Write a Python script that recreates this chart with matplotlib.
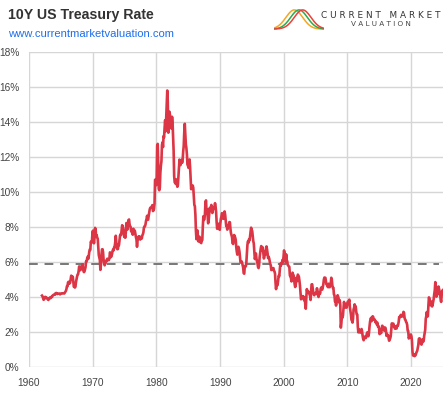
import numpy as np
import matplotlib
matplotlib.use("Agg")
import matplotlib.pyplot as plt

# ── Monthly 10Y treasury yield (%), Jan 1962 .. Dec 2024 ─────────
rates_1960s = [
    4.08, 4.04, 3.93, 3.84, 3.87, 3.91, 4.01, 3.98, 3.98, 3.93, 3.92, 3.86,  # 1962
    3.83, 3.92, 3.93, 3.97, 3.93, 3.99, 4.02, 4.00, 4.08, 4.11, 4.12, 4.13,  # 1963
    4.17, 4.15, 4.22, 4.23, 4.20, 4.17, 4.19, 4.19, 4.20, 4.19, 4.15, 4.18,  # 1964
    4.19, 4.21, 4.21, 4.20, 4.21, 4.21, 4.20, 4.25, 4.29, 4.35, 4.45, 4.62,  # 1965
    4.61, 4.83, 4.87, 4.75, 4.78, 4.81, 5.02, 5.22, 5.18, 5.01, 5.16, 4.84,  # 1966
    4.58, 4.63, 4.54, 4.59, 4.85, 5.02, 5.16, 5.28, 5.30, 5.48, 5.75, 5.70,  # 1967
    5.53, 5.56, 5.74, 5.64, 5.87, 5.72, 5.50, 5.42, 5.46, 5.58, 5.70, 6.03,  # 1968
    6.04, 6.19, 6.30, 6.17, 6.32, 6.57, 6.72, 6.69, 7.16, 7.10, 7.14, 7.65,  # 1969
]
rates_1970s = [
    7.79, 7.24, 7.07, 7.39, 7.95, 7.84, 7.46, 7.53, 7.39, 7.33, 6.84, 6.39,  # 1970
    6.24, 6.11, 5.55, 5.83, 6.39, 6.72, 6.73, 6.58, 6.14, 5.93, 5.81, 5.93,  # 1971
    5.95, 6.08, 6.07, 6.19, 6.13, 6.11, 6.11, 6.21, 6.55, 6.48, 6.28, 6.36,  # 1972
    6.46, 6.64, 6.71, 6.67, 6.85, 6.90, 7.13, 7.50, 7.09, 6.79, 6.73, 6.74,  # 1973
    6.99, 6.96, 7.21, 7.51, 7.58, 7.54, 7.81, 8.10, 8.04, 7.90, 7.68, 7.43,  # 1974
    7.50, 7.39, 7.73, 8.23, 8.06, 7.86, 8.06, 8.40, 8.43, 8.14, 8.05, 8.00,  # 1975
    7.74, 7.79, 7.73, 7.56, 7.90, 7.86, 7.83, 7.77, 7.59, 7.41, 7.29, 6.87,  # 1976
    7.21, 7.39, 7.46, 7.37, 7.46, 7.28, 7.33, 7.40, 7.34, 7.52, 7.58, 7.69,  # 1977
    7.96, 8.03, 8.04, 8.15, 8.35, 8.46, 8.64, 8.41, 8.42, 8.64, 8.81, 9.01,  # 1978
    9.10, 9.10, 9.12, 9.18, 9.25, 8.91, 8.95, 9.03, 9.33, 10.70, 10.65, 10.39,  # 1979
]
rates_1980s = [
    10.80, 12.65, 12.75, 11.47, 10.18, 10.10, 10.25, 11.10, 11.51, 11.75, 12.68, 12.84,  # 1980
    12.57, 13.19, 13.12, 13.68, 14.10, 13.47, 14.28, 14.94, 15.80, 15.15, 13.39, 13.72,  # 1981
    14.59, 14.43, 13.86, 13.87, 13.62, 14.30, 13.95, 13.06, 12.34, 10.91, 10.55, 10.54,  # 1982
    10.46, 10.72, 10.51, 10.30, 10.38, 10.85, 11.38, 11.85, 11.65, 11.54, 11.69, 11.83,  # 1983
    11.67, 11.84, 12.32, 12.63, 13.41, 13.90, 13.36, 12.72, 12.52, 12.16, 11.57, 11.50,  # 1984
    11.38, 11.51, 11.86, 11.43, 10.85, 10.16, 10.31, 10.33, 10.37, 10.24, 9.78, 9.26,  # 1985
    9.19, 8.70, 7.78, 7.30, 7.71, 7.80, 7.30, 7.17, 7.45, 7.43, 7.25, 7.11,  # 1986
    7.08, 7.25, 7.25, 8.02, 8.61, 8.40, 8.45, 8.76, 9.42, 9.52, 8.86, 8.99,  # 1987
    8.67, 8.21, 8.37, 8.72, 9.09, 8.92, 9.06, 9.26, 8.98, 8.80, 8.96, 9.11,  # 1988
    9.09, 9.17, 9.36, 9.18, 8.86, 8.28, 7.90, 8.11, 8.19, 8.01, 7.87, 7.84,  # 1989
]
rates_1990s = [
    8.21, 8.47, 8.59, 8.79, 8.76, 8.48, 8.47, 8.75, 8.89, 8.72, 8.39, 8.08,  # 1990
    8.09, 7.85, 8.11, 8.04, 8.07, 8.28, 8.27, 7.90, 7.65, 7.53, 7.42, 7.09,  # 1991
    7.03, 7.34, 7.54, 7.48, 7.39, 7.26, 6.84, 6.59, 6.42, 6.59, 6.87, 6.77,  # 1992
    6.60, 6.26, 5.98, 5.97, 6.04, 5.96, 5.81, 5.68, 5.36, 5.33, 5.72, 5.77,  # 1993
    5.75, 5.97, 6.48, 6.97, 7.18, 7.10, 7.30, 7.24, 7.46, 7.74, 7.96, 7.81,  # 1994
    7.78, 7.47, 7.20, 7.06, 6.63, 6.17, 6.28, 6.49, 6.20, 6.04, 5.93, 5.71,  # 1995
    5.65, 5.81, 6.27, 6.51, 6.74, 6.91, 6.87, 6.64, 6.83, 6.53, 6.20, 6.30,  # 1996
    6.58, 6.42, 6.69, 6.89, 6.71, 6.49, 6.22, 6.30, 6.21, 6.03, 5.88, 5.81,  # 1997
    5.54, 5.57, 5.65, 5.64, 5.65, 5.50, 5.46, 5.34, 4.81, 4.45, 4.83, 4.65,  # 1998
    4.72, 5.00, 5.23, 5.18, 5.54, 5.90, 5.79, 5.94, 5.92, 6.11, 6.03, 6.28,  # 1999
]
rates_2000s = [
    6.66, 6.52, 6.26, 5.99, 6.44, 6.10, 6.05, 5.83, 5.80, 5.74, 5.72, 5.24,  # 2000
    5.16, 5.10, 4.89, 5.14, 5.39, 5.28, 5.24, 4.97, 4.73, 4.57, 4.65, 5.09,  # 2001
    5.04, 4.91, 5.28, 5.21, 5.16, 4.93, 4.65, 4.26, 3.87, 3.94, 4.05, 4.03,  # 2002
    4.05, 3.90, 3.81, 3.96, 3.57, 3.33, 3.98, 4.45, 4.27, 4.29, 4.30, 4.27,  # 2003
    4.15, 4.08, 3.83, 4.35, 4.72, 4.73, 4.50, 4.28, 4.13, 4.10, 4.19, 4.23,  # 2004
    4.22, 4.17, 4.50, 4.34, 4.14, 4.00, 4.18, 4.26, 4.20, 4.46, 4.54, 4.47,  # 2005
    4.42, 4.57, 4.72, 4.99, 5.11, 5.11, 5.09, 4.88, 4.72, 4.73, 4.60, 4.56,  # 2006
    4.76, 4.72, 4.56, 4.69, 4.75, 5.10, 5.00, 4.67, 4.52, 4.53, 4.15, 4.10,  # 2007
    3.74, 3.74, 3.51, 3.68, 3.88, 4.10, 4.01, 3.89, 3.69, 3.81, 3.53, 2.25,  # 2008
    2.52, 2.87, 2.82, 2.93, 3.29, 3.72, 3.56, 3.59, 3.40, 3.39, 3.40, 3.59,  # 2009
]
rates_2010s = [
    3.73, 3.69, 3.73, 3.85, 3.42, 3.20, 3.01, 2.70, 2.65, 2.54, 2.76, 3.29,  # 2010
    3.39, 3.58, 3.41, 3.46, 3.17, 3.00, 3.00, 2.30, 1.98, 2.15, 2.01, 1.98,  # 2011
    1.97, 1.97, 2.17, 2.05, 1.80, 1.62, 1.53, 1.68, 1.72, 1.75, 1.65, 1.72,  # 2012
    1.91, 1.98, 1.96, 1.76, 1.93, 2.30, 2.58, 2.74, 2.81, 2.62, 2.72, 2.90,  # 2013
    2.86, 2.71, 2.72, 2.71, 2.56, 2.60, 2.54, 2.42, 2.53, 2.30, 2.33, 2.21,  # 2014
    1.88, 1.98, 2.04, 1.94, 2.20, 2.36, 2.32, 2.17, 2.17, 2.07, 2.26, 2.24,  # 2015
    2.09, 1.78, 1.89, 1.81, 1.81, 1.64, 1.50, 1.56, 1.63, 1.76, 2.14, 2.49,  # 2016
    2.43, 2.42, 2.48, 2.30, 2.30, 2.19, 2.32, 2.21, 2.20, 2.36, 2.35, 2.40,  # 2017
    2.58, 2.86, 2.84, 2.87, 2.98, 2.91, 2.89, 2.89, 3.00, 3.15, 3.12, 2.83,  # 2018
    2.71, 2.68, 2.57, 2.53, 2.40, 2.07, 2.06, 1.63, 1.70, 1.71, 1.81, 1.86,  # 2019
]
rates_2020s = [
    1.76, 1.50, 0.87, 0.66, 0.67, 0.73, 0.62, 0.65, 0.68, 0.79, 0.87, 0.93,  # 2020
    1.08, 1.26, 1.61, 1.64, 1.62, 1.52, 1.32, 1.28, 1.37, 1.58, 1.56, 1.47,  # 2021
    1.76, 1.93, 2.13, 2.75, 2.90, 3.14, 2.90, 2.90, 3.52, 3.98, 3.89, 3.62,  # 2022
    3.53, 3.75, 3.66, 3.46, 3.57, 3.75, 3.90, 4.17, 4.38, 4.85, 4.50, 4.02,  # 2023
    4.06, 4.21, 4.21, 4.60, 4.48, 4.31, 4.25, 3.87, 3.72, 4.10, 4.36, 4.39,  # 2024
]
start_year = 1962
mean_rate = 5.86

y_ticks = [0, 2, 4, 6, 8, 10, 12, 14, 16, 18]
x_ticks = [1960, 1970, 1980, 1990, 2000, 2010, 2020]

TITLE = "10Y US Treasury Rate"
URL = "www.currentmarketvaluation.com"

rates = np.array(rates_1960s + rates_1970s + rates_1980s + rates_1990s
                 + rates_2000s + rates_2010s + rates_2020s)
dates = start_year + (np.arange(len(rates)) + 0.5) / 12.0

W, H = 447, 397
fig = plt.figure(figsize=(W / 100, H / 100), dpi=100)
ax = fig.add_axes([29 / W, 1 - 367 / H, (443 - 29) / W, (367 - 52) / H])

ax.plot(dates, rates, color="#DC3545", linewidth=1.9, solid_joinstyle="round", zorder=3)
ax.plot([1960, 2024.3], [mean_rate, mean_rate], color="#777777", linewidth=1.4,
        linestyle=(0, (4.5, 3.5)), zorder=2)

ax.set_xlim(1960, 2025)
ax.set_ylim(0, 18)
ax.set_xticks(x_ticks)
ax.set_yticks(y_ticks)
ax.set_yticklabels([f"{v}%" for v in y_ticks])
ax.grid(True, color="#d6d6d6", linewidth=1.0)
ax.set_axisbelow(True)
for s in ax.spines.values():
    s.set_visible(False)
ax.tick_params(length=0, labelsize=7.3, labelcolor="#444444")
ax.tick_params(axis="y", pad=7)
ax.tick_params(axis="x", pad=8)
for lab in ax.get_xticklabels() + ax.get_yticklabels():
    lab.set_family("Liberation Sans")

# ── Header ────────────────────────────────────────────────
fig.text(8 / W, 1 - 15 / H, TITLE, fontsize=10.2, fontweight="bold", color="#333333",
         family="Liberation Sans", va="center", ha="left")
fig.text(8 / W, 1 - 34 / H, URL, fontsize=8.1, color="#1E6FEB",
         family="Liberation Sans", va="center", ha="left")

# logo: three bell curves
lax = fig.add_axes([274 / W, 1 - 30 / H, 50 / W, 22 / H])
t = np.linspace(-3, 3, 200)
for shift, col in [(-0.45, "#F5A623"), (0.0, "#2EAA4A"), (0.35, "#E8423A")]:
    lax.plot(t + shift, np.exp(-((t) ** 2) / 1.3), color=col, linewidth=1.1)
lax.set_xlim(-2.4, 2.4)
lax.set_ylim(-0.05, 1.1)
lax.axis("off")

fig.text(381 / W, 1 - 16 / H, "C U R R E N T   M A R K E T", fontsize=6.4,
         color="#333333", family="DejaVu Sans", va="center", ha="center")
fig.text(381 / W, 1 - 24.5 / H, "V A L U A T I O N", fontsize=5.2,
         color="#444444", family="DejaVu Sans", va="center", ha="center")

fig.savefig("out.png", dpi=100)
